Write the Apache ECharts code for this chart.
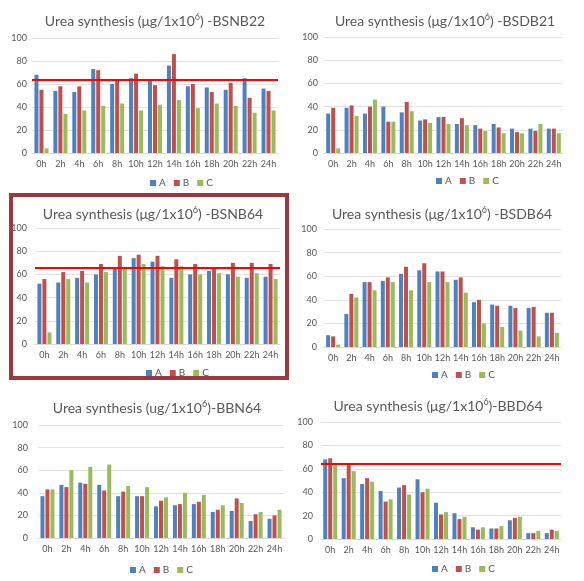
<!DOCTYPE html>
<html>
<head>
<meta charset="UTF-8">
<title>Urea synthesis</title>
<script src="https://cdn.jsdelivr.net/npm/echarts@6/dist/echarts.min.js"></script>
<style>
  html, body { margin: 0; padding: 0; background: #fff; }
  #main { width: 584px; height: 581px; }
</style>
</head>
<body>
<div id="main"></div>
<script>
    var hours = ['0h', '2h', '4h', '6h', '8h', '10h', '12h', '14h', '16h', '18h', '20h', '22h', '24h'];
    var yTicks = [0, 20, 40, 60, 80, 100];

    var bsnb22A = [68, 54, 53, 73, 60, 65, 63, 76, 58, 57, 55, 65, 56];
    var bsnb22B = [55, 58, 58, 72, 63, 69, 59, 86, 60, 53, 61, 48, 54];
    var bsnb22C = [4, 34, 37, 41, 43, 37, 42, 46, 39, 43, 41, 35, 37];

    var bsdb21A = [34, 39, 34, 40, 35, 28, 31, 25, 24, 25, 21, 21, 21];
    var bsdb21B = [39, 41, 40, 27, 44, 29, 31, 30, 21, 22, 18, 19, 21];
    var bsdb21C = [4, 32, 46, 27, 36, 26, 25, 24, 19, 17, 17, 25, 17];

    var bsnb64A = [52, 53, 57, 60, 65, 74, 71, 57, 60, 63, 60, 57, 58];
    var bsnb64B = [56, 62, 63, 69, 76, 77, 76, 73, 69, 66, 70, 70, 69];
    var bsnb64C = [10, 56, 53, 62, 66, 69, 67, 67, 60, 61, 58, 61, 56];

    var bsdb64A = [10, 28, 55, 56, 62, 65, 64, 57, 38, 36, 35, 33, 29];
    var bsdb64B = [9, 45, 55, 59, 68, 71, 64, 59, 40, 35, 33, 34, 29];
    var bsdb64C = [2, 42, 48, 55, 48, 55, 55, 46, 20, 17, 14, 9, 12];

    var bbn64A = [37, 47, 49, 47, 37, 37, 28, 29, 30, 23, 24, 15, 17];
    var bbn64B = [43, 45, 48, 42, 41, 37, 33, 30, 32, 25, 35, 21, 20];
    var bbn64C = [43, 60, 63, 65, 46, 45, 36, 40, 38, 29, 31, 23, 25];

    var bbd64A = [68, 52, 47, 41, 44, 51, 31, 22, 10, 9, 16, 5, 5];
    var bbd64B = [69, 65, 52, 32, 46, 40, 21, 17, 8, 9, 18, 5, 8];
    var bbd64C = [63, 58, 49, 34, 38, 43, 23, 19, 10, 11, 19, 7, 7];

    // red reference lines (null = none)
    var bsnb22Line = 63.5;
    var bsnb64Line = 65.5;
    var bbd64Line = 64;

    var colors = ['#4f81bd', '#c0504d', '#9bbb59'];
    var names = ['A', 'B', 'C'];

    var panels = [
        {pre: 'Urea synthesis (μg/1x10', post: ') -BSNB22', data: [bsnb22A, bsnb22B, bsnb22C], line: bsnb22Line,
            grid: {left: 32, top: 38, width: 246, height: 115}, tx: 150, ty: 8, lx: 145, ly: 173, ym: 5},
        {pre: 'Urea synthesis (μg/1x10', post: ') -BSDB21', data: [bsdb21A, bsdb21B, bsdb21C], line: null,
            grid: {left: 324, top: 37, width: 239, height: 116}, tx: 440, ty: 8, lx: 431, ly: 171, ym: 6},
        {pre: 'Urea synthesis (μg/1x10', post: ') -BSNB64', data: [bsnb64A, bsnb64B, bsnb64C], line: bsnb64Line,
            grid: {left: 35, top: 228, width: 245, height: 116}, tx: 148, ty: 201, lx: 141, ly: 363, ym: 8},
        {pre: 'Urea synthesis (μg/1x10', post: ') -BSDB64', data: [bsdb64A, bsdb64B, bsdb64C], line: null,
            grid: {left: 324, top: 229, width: 237, height: 118}, tx: 437, ty: 201, lx: 427, ly: 365, ym: 7},
        {pre: 'Urea synthesis (ug/1x10', post: ')-BBN64', data: [bbn64A, bbn64B, bbn64C], line: null,
            grid: {left: 38, top: 425, width: 246, height: 113}, tx: 152, ty: 395, lx: 125, ly: 560, ym: 10},
        {pre: 'Urea synthesis (μg/1x10', post: ')-BBD64', data: [bbd64A, bbd64B, bbd64C], line: bbd64Line,
            grid: {left: 321, top: 422, width: 240, height: 117}, tx: 433, ty: 393, lx: 427, ly: 559, ym: 8}
    ];

    var chart = echarts.init(document.getElementById('main'));

    var titles = [], grids = [], xAxes = [], yAxes = [], legends = [], series = [];

    panels.forEach(function (p, i) {
        titles.push({
            text: '{a|' + p.pre + '}{s|6}{a|' + p.post + '}',
            left: p.tx,
            top: p.ty,
            textAlign: 'center',
            textStyle: {
                fontWeight: 'normal',
                rich: {
                    a: {fontFamily: 'Lato', fontSize: 14, fontWeight: 'normal', color: '#595959'},
                    s: {fontFamily: 'Lato', fontSize: 9, fontWeight: 'normal', color: '#595959', padding: [0, 0, 7, 0]}
                }
            }
        });
        grids.push(p.grid);
        xAxes.push({
            type: 'category',
            gridIndex: i,
            data: hours,
            axisLine: {lineStyle: {color: '#d9d9d9'}},
            axisTick: {show: false},
            axisLabel: {color: '#595959', fontSize: 9, fontFamily: 'Lato', margin: 7, interval: 0}
        });
        yAxes.push({
            type: 'value',
            gridIndex: i,
            min: yTicks[0],
            max: yTicks[yTicks.length - 1],
            interval: 20,
            axisLine: {show: false},
            axisTick: {show: false},
            splitLine: {lineStyle: {color: '#e3e3e3'}},
            axisLabel: {color: '#595959', fontSize: 9, fontFamily: 'Lato', margin: p.ym}
        });
        legends.push({
            data: names,
            left: p.lx,
            top: p.ly,
            itemWidth: 6,
            itemHeight: 6,
            itemGap: 8,
            icon: 'rect',
            textStyle: {color: '#595959', fontSize: 10, fontFamily: 'Lato', padding: [0, 0, 0, -2]}
        });
        p.data.forEach(function (vals, k) {
            var s = {
                name: names[k],
                type: 'bar',
                xAxisIndex: i,
                yAxisIndex: i,
                data: vals,
                barWidth: 4,
                barGap: '25%',
                itemStyle: {color: colors[k]},
                silent: true
            };
            if (k === 2 && p.line !== null) {
                s.markLine = {
                    symbol: 'none',
                    silent: true,
                    label: {show: false},
                    lineStyle: {color: '#ff0000', type: 'solid', width: 2},
                    data: [{yAxis: p.line}]
                };
            }
            series.push(s);
        });
    });

    chart.setOption({
        animation: false,
        title: titles,
        grid: grids,
        xAxis: xAxes,
        yAxis: yAxes,
        legend: legends,
        series: series,
        graphic: [{
            type: 'rect',
            shape: {x: 11, y: 195, width: 276, height: 183},
            style: {fill: 'none', stroke: '#9a3a40', lineWidth: 4},
            z: 100
        }]
    });
</script>
</body>
</html>
